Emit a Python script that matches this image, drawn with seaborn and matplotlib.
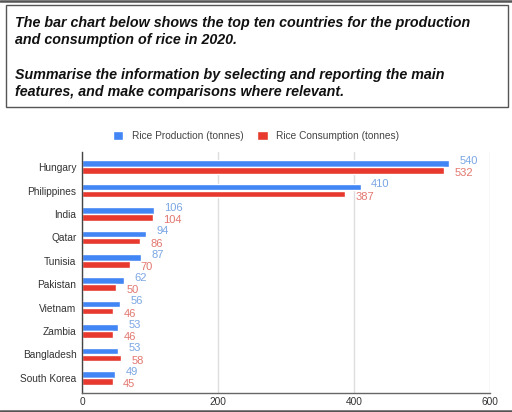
"""Top ten countries for rice production / consumption, 2020."""
import numpy as np
import pandas as pd

import seaborn as sea
import matplotlib.pyplot as plt
from matplotlib.patches import Rectangle

sea.set_style("white")
plt.rcParams["font.family"] = ["Liberation Sans", "DejaVu Sans"]

countries = ["Hungary", "Philippines", "India", "Qatar", "Tunisia",
             "Pakistan", "Vietnam", "Zambia", "Bangladesh", "South Korea"]
production = [540, 410, 106, 94, 87, 62, 56, 53, 53, 49]
consumption = [532, 387, 104, 86, 70, 50, 46, 46, 58, 45]
series = ["Rice Production (tonnes)", "Rice Consumption (tonnes)"]

df = pd.DataFrame({
    "country": countries * 2,
    "tonnes": production + consumption,
    "series": np.repeat(series, len(countries)),
})

BAR_COLORS = {series[0]: "#4285f4", series[1]: "#e8392e"}
LABEL_COLORS = {series[0]: "#7aa6e3", series[1]: "#e2776f"}

fig = plt.figure(figsize=(5.12, 4.12), dpi=100)

# frame lines of the screenshot + the question box
fig.add_artist(plt.Line2D([0, 1], [0.998, 0.998], color="#555555", lw=1.8, transform=fig.transFigure))
fig.add_artist(plt.Line2D([0, 1], [0.002, 0.002], color="#555555", lw=1.8, transform=fig.transFigure))
fig.add_artist(Rectangle((6/512, 1-107/412), 502/512, 102/412, transform=fig.transFigure,
    fill=False, edgecolor="#555555", lw=1))

prompt = ["The bar chart below shows the top ten countries for the production",
          "and consumption of rice in 2020.",
          "",
          "Summarise the information by selecting and reporting the main",
          "features, and make comparisons where relevant."]
for i, line in enumerate(prompt):
    fig.text(15/512, 1-(23+17.2*i)/412, line, fontsize=10.3, fontweight="bold",
        fontstyle="italic", va="center", ha="left", color="#111111")

ax = fig.add_axes([82/512, 1-393/412, 408/512, 241/412])
sea.barplot(data=df, y="country", x="tonnes", hue="series", palette=BAR_COLORS,
    orient="h", width=0.6, gap=0.06, saturation=1, ax=ax, legend=True)

for cont, s in zip(ax.containers, series):
    for bar in cont:
        w = bar.get_width()
        yc = bar.get_y() + bar.get_height()/2
        ax.annotate(f"{w:.0f}", (w, yc), xytext=(7.5, 2 if s == series[0] else -2),
            textcoords="offset points", ha="left", va="center",
            fontsize=8, color=LABEL_COLORS[s])

ax.set_xlim(0, 600)
ax.set_ylim(9.65, -0.65)
ax.xaxis.set(major_locator=plt.MultipleLocator(200))
ax.grid(axis="x", color="#dddddd", lw=1)
ax.set_axisbelow(True)
ax.set_xlabel("")
ax.set_ylabel("")
ax.tick_params(axis="both", labelsize=7.3, colors="#333333", length=0)
ax.tick_params(axis="y", pad=4)
ax.tick_params(axis="x", pad=3)
for side in ["top", "right"]:
    ax.spines[side].set_visible(False)
ax.spines["left"].set_color("#444444")
ax.spines["bottom"].set_color("#666666")
ax.spines["left"].set_linewidth(1)
ax.spines["bottom"].set_linewidth(1)

leg = ax.legend(loc="center", bbox_to_anchor=(256/512, 1-136/412),
    bbox_transform=fig.transFigure, ncol=2, frameon=False, fontsize=7.3,
    handlelength=1.0, handleheight=1.0, handletextpad=0.8, columnspacing=1.4)
for t in leg.get_texts():
    t.set_color("#444444")

plt.savefig("out.png", dpi=100)
plt.close()
